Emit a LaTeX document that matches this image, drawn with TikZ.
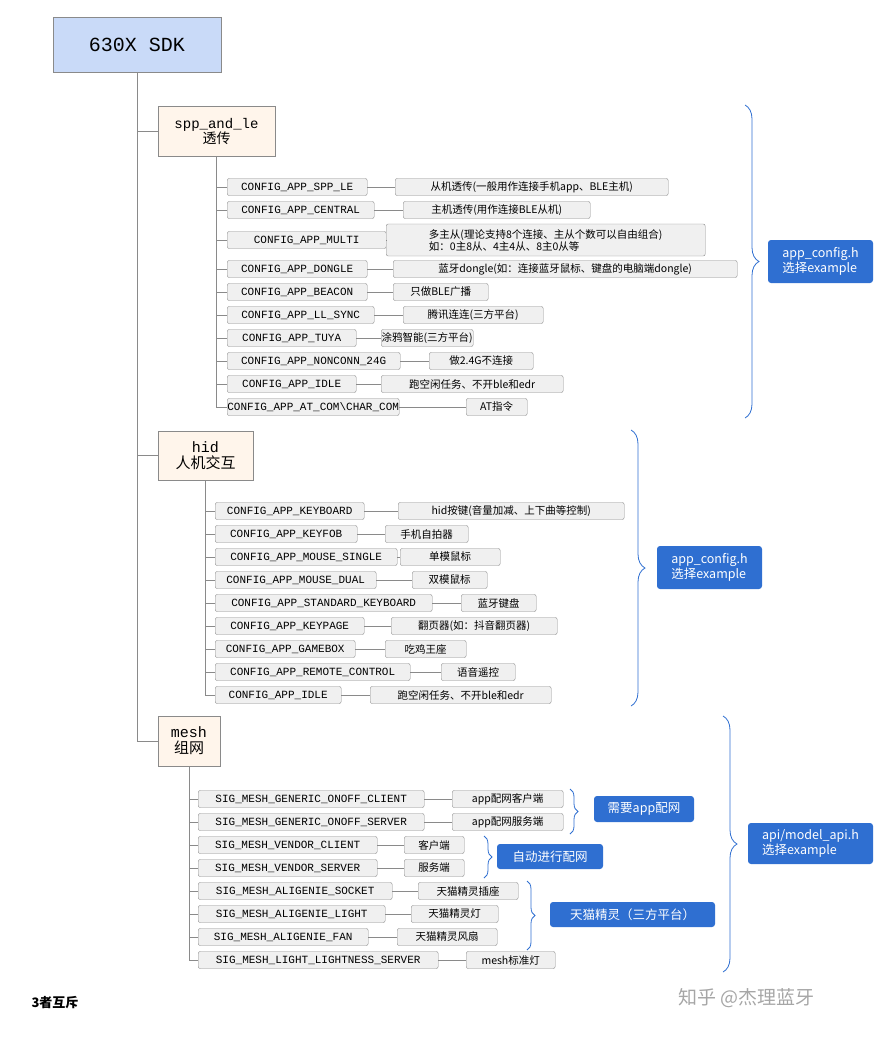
\documentclass[tikz,border=0pt]{standalone}
\usepackage{fontspec}
\setmainfont{Noto Sans CJK SC}
\newfontfamily\mono{Liberation Mono}
\newfontfamily\cjk{Noto Sans CJK SC}
\usetikzlibrary{decorations.pathreplacing}
\definecolor{bl}{HTML}{2F6FD1}
\definecolor{ln}{HTML}{8A8A8A}
\definecolor{rootc}{HTML}{C9DAF8}
\tikzset{
 box/.style={draw=ln,fill=black!6,rounded corners=2pt,inner sep=0pt,minimum height=17pt,anchor=west,font=\mono\fontsize{11}{11}\selectfont},
 dsc/.style={draw=ln,fill=black!6,rounded corners=2pt,inner sep=0pt,minimum height=17pt,anchor=west,font=\fontsize{10.5}{12}\selectfont},
 top/.style={draw=ln,fill=orange!8,font=\mono\fontsize{14}{15}\selectfont,align=center,inner sep=0pt},
 tag/.style={fill=bl,rounded corners=3pt,text=white,font=\itshape\fontsize{12.5}{13}\selectfont,align=left,inner sep=0pt},
 br/.style={draw=bl,thick,decorate,decoration={brace,amplitude=8pt}},
 cn/.style={draw=ln,thick}
}
\newcommand\row[9]{%
 \node[box,minimum width={#4pt-#3pt}] (#1) at (#3,#5) {#6};
 \node[dsc,minimum width={#8pt-#7pt}] (#2) at (#7,#5) {#9};
 \draw[cn] (#1) -- (#2);}
\begin{document}
\begin{tikzpicture}[x=1pt,y=-1pt]
\useasboundingbox (0,0) rectangle (890,1037);
\node[draw=ln,fill=rootc,minimum width=168pt,minimum height=55pt,font=\mono\fontsize{20}{20}\selectfont] (root) at (137,44.5) {630X SDK};
\node[top,minimum width=117pt,minimum height=50pt] (spp) at (216.5,131) {spp\_and\_le\\{\cjk 透传}};
\node[top,minimum width=95pt,minimum height=49pt,font=\mono\fontsize{15}{16}\selectfont] (hid) at (205.5,455.5) {hid\\{\cjk 人机交互}};
\node[top,minimum width=62pt,minimum height=50pt,font=\mono\fontsize{15}{16}\selectfont] (mesh) at (189,741) {mesh\\{\cjk 组网}};
\draw[cn] (root.south) |- (mesh.west);
\draw[cn] (spp.west -| root.south) -- (spp.west);
\draw[cn] (hid.west -| root.south) -- (hid.west);
% spp
\row{s1}{sd1}{227}{367}{187}{CONFIG\_APP\_SPP\_LE}{395}{668}{从机透传(一般用作连接手机app、BLE主机)}
\row{s2}{sd2}{227}{374}{210}{CONFIG\_APP\_CENTRAL}{403}{590}{主机透传(用作连接BLE从机)}
\node[box,minimum width=159pt] (s3) at (227,240) {CONFIG\_APP\_MULTI};
\node[dsc,minimum width=319pt,minimum height=32pt,align=left] (sd3) at (386,240) {多主从(理论支持8个连接、主从个数可以自由组合)\\如：0主8从、4主4从、8主0从等};
\draw[cn] (s3) -- (sd3);
\row{s4}{sd4}{227}{367}{269}{CONFIG\_APP\_DONGLE}{393}{737}{蓝牙dongle(如：连接蓝牙鼠标、键盘的电脑端dongle)}
\row{s5}{sd5}{227}{367}{292}{CONFIG\_APP\_BEACON}{393}{488}{只做BLE广播}
\row{s6}{sd6}{227}{374}{315}{CONFIG\_APP\_LL\_SYNC}{403}{543}{腾讯连连(三方平台)}
\row{s7}{sd7}{227}{356}{338}{CONFIG\_APP\_TUYA}{381}{473}{涂鸦智能(三方平台)}
\row{s8}{sd8}{227}{400}{361}{CONFIG\_APP\_NONCONN\_24G}{429}{533}{做2.4G不连接}
\row{s9}{sd9}{227}{356}{384}{CONFIG\_APP\_IDLE}{381}{563}{跑空闲任务、不开ble和edr}
\row{s10}{sd10}{227}{399}{407}{CONFIG\_APP\_AT\_COM\textbackslash CHAR\_COM}{466}{527}{AT指令}
\draw[cn] (spp.south) |- (s10.west);
\foreach \i in {1,...,9} \draw[cn] (s\i.west) -- (s\i.west -| spp.south);
% hid
\row{h1}{hd1}{215}{364}{511}{CONFIG\_APP\_KEYBOARD}{398}{624}{hid按键(音量加减、上下曲等控制)}
\row{h2}{hd2}{215}{357}{534}{CONFIG\_APP\_KEYFOB}{385}{468}{手机自拍器}
\row{h3}{hd3}{215}{397}{557}{CONFIG\_APP\_MOUSE\_SINGLE}{400}{500}{单模鼠标}
\row{h4}{hd4}{215}{376}{580}{CONFIG\_APP\_MOUSE\_DUAL}{412}{487}{双模鼠标}
\row{h5}{hd5}{215}{432}{603}{CONFIG\_APP\_STANDARD\_KEYBOARD}{461}{536}{蓝牙键盘}
\row{h6}{hd6}{215}{364}{626}{CONFIG\_APP\_KEYPAGE}{391}{557}{翻页器(如：抖音翻页器)}
\row{h7}{hd7}{215}{355}{649}{CONFIG\_APP\_GAMEBOX}{385}{466}{吃鸡王座}
\row{h8}{hd8}{215}{410}{672}{CONFIG\_APP\_REMOTE\_CONTROL}{441}{515}{语音遥控}
\row{h9}{hd9}{215}{341}{695}{CONFIG\_APP\_IDLE}{370}{551}{跑空闲任务、不开ble和edr}
\draw[cn] (hid.south) |- (h9.west);
\foreach \i in {1,...,8} \draw[cn] (h\i.west) -- (h\i.west -| hid.south);
% mesh
\row{m1}{md1}{198}{424}{799}{SIG\_MESH\_GENERIC\_ONOFF\_CLIENT}{452}{563}{app配网客户端}
\row{m2}{md2}{198}{424}{822}{SIG\_MESH\_GENERIC\_ONOFF\_SERVER}{452}{563}{app配网服务端}
\row{m3}{md3}{198}{377}{845}{SIG\_MESH\_VENDOR\_CLIENT}{404}{464}{客户端}
\row{m4}{md4}{198}{377}{868}{SIG\_MESH\_VENDOR\_SERVER}{404}{464}{服务端}
\row{m5}{md5}{198}{392}{891}{SIG\_MESH\_ALIGENIE\_SOCKET}{418}{518}{天猫精灵插座}
\row{m6}{md6}{198}{385}{914}{SIG\_MESH\_ALIGENIE\_LIGHT}{411}{498}{天猫精灵灯}
\row{m7}{md7}{198}{368}{937}{SIG\_MESH\_ALIGENIE\_FAN}{397}{497}{天猫精灵风扇}
\row{m8}{md8}{198}{438}{960}{SIG\_MESH\_LIGHT\_LIGHTNESS\_SERVER}{466}{555}{mesh标准灯}
\draw[cn] (mesh.south) |- (m8.west);
\foreach \i in {1,...,7} \draw[cn] (m\i.west) -- (m\i.west -| mesh.south);
% tags
\node[tag,minimum width=105pt,minimum height=43pt] (t1) at (820.5,261.5) {app\_config.h\\选择example};
\node[tag,minimum width=105pt,minimum height=43pt] (t2) at (709.5,567.5) {app\_config.h\\选择example};
\node[tag,minimum width=125pt,minimum height=41pt] (t3) at (810.5,843.5) {api/model\_api.h\\选择example};
\node[tag,minimum width=100pt,minimum height=26pt] (t4) at (644,809) {需要app配网};
\node[tag,minimum width=106pt,minimum height=25pt] (t5) at (550,856.5) {自动进行配网};
\node[tag,minimum width=165pt,minimum height=25pt] (t6) at (632.5,914.5) {天猫精灵（三方平台）};
\coordinate (b1a) at (745,105); \coordinate (b1b) at (745,418);
\coordinate (b2a) at (631,430); \coordinate (b2b) at (631,706);
\coordinate (b3a) at (723,716); \coordinate (b3b) at (723,972);
\coordinate (b4a) at (570,789); \coordinate (b4b) at (570,834);
\coordinate (b5a) at (484,836); \coordinate (b5b) at (484,878);
\coordinate (b6a) at (527,881); \coordinate (b6b) at (527,950);
\draw[br,decoration={amplitude=14pt}] (b1a) -- (b1b);
\draw[br,decoration={amplitude=14pt}] (b2a) -- (b2b);
\draw[br,decoration={amplitude=14pt}] (b3a) -- (b3b);
\draw[br] (b4a) -- (b4b);
\draw[br] (b5a) -- (b5b);
\draw[br] (b6a) -- (b6b);
\node[anchor=west,font=\bfseries\fontsize{13}{14}\selectfont] (note) at (28,1003) {3者互斥};
\node[anchor=west,text=black!35,font=\fontsize{19}{20}\selectfont] (wm) at (675,998) {知乎 @杰理蓝牙};
\end{tikzpicture}
\end{document}
